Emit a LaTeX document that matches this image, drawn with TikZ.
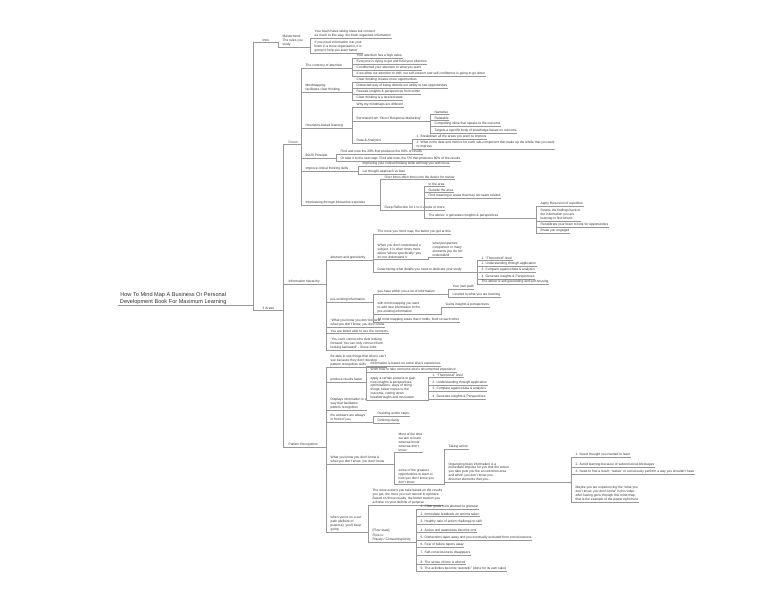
\documentclass[tikz,border=0pt]{standalone}
\usepackage{fontspec}
\setmainfont{Liberation Sans}
\usetikzlibrary{calc}
\tikzset{
  t/.style={anchor=south west,inner sep=0.5pt,align=left,font=\fontsize{3.3}{3.9}\selectfont,text=black!80},
  ul/.style={draw=black!40,line width=0.35pt},
  ln/.style={draw=black!40,line width=0.35pt},
}
\newcommand\mn[5][]{\node[t,#1] (#2) at (#3,#4) {#5}; \draw[ul] (#2.south west) -- (#2.south east);}
\newcommand\mc[3][4]{\draw[ln] (#2.south east) -| ($(#3.south west)+(-#1,0)$) -- (#3.south west);}
\begin{document}
\begin{tikzpicture}[x=1pt,y=-1pt]
\useasboundingbox[fill=white] (0,0) rectangle (768,594);
\mn[align=center,font=\fontsize{5.6}{7}\selectfont,minimum width=110pt]{root}{118}{305}{How To Mind Map A Business Or Personal\\Development Book For Maximum Learning}
\mn{intro}{262}{42}{Intro}
\mn{areas}{262}{310}{3 Areas}
\mc[9]{root}{intro}\mc[9]{root}{areas}
\mn{mm}{282}{47}{Mastermind:\\The rules you\\study}
\mc{intro}{mm}
\mn{i1}{314}{38}{Your brain hates taking ideas but connect\\as much to this way. the brain organizes information}
\mn{i2}{314}{53}{If you need information into your\\brain in a more organizaton, it is\\going to help you learn better}
\mc{mm}{i1}\mc{mm}{i2}
\mn{focus}{288}{144}{Focus}
\mn{info}{288}{284}{Information hierarchy}
\mn{pat}{288}{447}{Pattern Recognition}
\mc[5]{areas}{focus}\mc[5]{areas}{info}\mc[5]{areas}{pat}
% focus
\mn{cur}{305}{68}{The currency of attention}
\mn{mmc}{305}{92}{Mindmapping\\facilitates clear thinking}
\mn{heu}{305}{128}{Heuristics-based learning}
\mn{p80}{305}{158}{80/20 Principle}
\mn{crit}{305}{171}{Improve critical thinking skills}
\mn{inter}{305}{205}{Interleaving through interactive expertise}
\foreach \c in {cur,mmc,heu,p80,crit,inter}{\mc{focus}{\c}}
\mn{c1}{356}{58}{Your attention has a high value}
\mn{c2}{356}{64}{Everyone is trying to get and hold your attention}
\mn{c3}{356}{70}{Conditioned your attention to what you want}
\mn{c4}{356}{76}{If we allow our attention to drift, our self-esteem and self-confidence is going to go down}
\foreach \c in {c1,c2,c3,c4}{\mc{cur}{\c}}
\mn{m1}{356}{82}{Clear thinking creates more opportunities}
\mn{m2}{356}{88}{Distracted way of being distorts our ability to see opportunities}
\mn{m3}{356}{94}{Reveals insights \& perspectives from within}
\mn{m4}{356}{100}{Clear thinking is a desired state}
\foreach \c in {m1,m2,m3,m4}{\mc{mmc}{\c}}
\mn{h1}{356}{107}{Why my mindmaps are different}
\mn{h2}{356}{121}{Borrowed from ``Direct Response Marketing''}
\mn{h3}{356}{143}{Data \& Analytics}
\foreach \c in {h1,h2,h3}{\mc{heu}{\c}}
\mn{b1}{434}{114}{Narrative}
\mn{b2}{434}{120}{Relatable}
\mn{b3}{434}{126}{Compelling inline that speaks to the outcome}
\mn{b4}{434}{133}{Targets a specific body of knowledge based on outcome}
\foreach \c in {b1,b2,b3,b4}{\mc{h2}{\c}}
\mn{d1}{416}{139}{1. Breakdown all the areas you want to improve}
\mn{d2}{416}{149}{2. What is the data and metrics for each sub-component that make up the whole that you want\\to improve}
\mc{h3}{d1}\mc{h3}{d2}
\mn{e1}{340}{154}{Find and note the 20\% that produces the 80\% of results}
\mn{e2}{340}{161}{Or take it to the next step: Find and note, the 5\% that produces 80\% of the results}
\mc{p80}{e1}\mc{p80}{e2}
\mn{k1}{362}{166}{Improving your critical thinking skills will help you with focus}
\mn{k2}{362}{174}{Let thought approach vs bias}
\mc{crit}{k1}\mc{crit}{k2}
\mn{n1}{384}{179}{Over times often times into the desire for review}
\mn{n2}{384}{210}{Deep Reflection for 1 to 2 weeks or more}
\mc{inter}{n1}\mc{inter}{n2}
\mn{r1}{428}{186}{In the area}
\mn{r2}{428}{192}{Outside the area}
\mn{r3}{428}{198}{Find meaning in areas that may not seem related}
\mn{r4}{428}{218}{The above: it generates insights \& perspectives}
\foreach \c in {r1,r2,r3,r4}{\mc{n2}{\c}}
\mn{s1}{540}{206}{Apply Recursion of repetition}
\mn{s2}{540}{221}{Rewire the findings back to\\the information you are\\learning to find kinetic}
\mn{s3}{540}{227}{Recalibrate your brain to look for opportunities}
\mn{s4}{540}{233}{Break you engaged}
\foreach \c in {s1,s2,s3,s4}{\mc{r4}{\c}}
% information hierarchy
\mn{ab}{330}{260}{abstract and granularity}
\mn{pre}{330}{302}{pre-existing information}
\mn{wk}{330}{327}{``What you know you don't know \&\\what you don't know, you don't know}
\mn{ba}{330}{333}{You are better able to see the connects}
\mn{sj}{330}{350}{``You can't connect the dots looking\\forward; You can only connect them\\looking backward'' - Steve Jobs}
\foreach \c in {ab,pre,wk,ba,sj}{\mc{info}{\c}}
\mn{ab1}{377}{234}{The more you mind map, the better you get at this}
\mn{ab2}{377}{259}{When you don't understand a\\subject, it is often times more\\about ``where specifically'' you\\do not understand it}
\mn{ab3}{377}{272}{Determining what details you need to dedicate your study}
\foreach \c in {ab1,ab2,ab3}{\mc{ab}{\c}}
\mn{ab2a}{432}{257}{what perspective,\\component or many\\elements you do not\\understand}
\mc{ab2}{ab2a}
\mn{l1}{481}{260}{1. ``Theoretical'' level}
\mn{l2}{481}{266}{2. Understanding through application}
\mn{l3}{481}{272}{3. Compare against data \& analytics}
\mn{l4}{481}{279}{4. Generate insights \& Perspectives}
\mn{l5}{481}{284}{The above is self-generating and self-housing}
\foreach \c in {l1,l2,l3,l4,l5}{\mc{ab3}{\c}}
\mn{p1}{377}{294}{you have within you a lot of information}
\mn{p2}{377}{314}{with mind mapping you want\\to add new information to the\\pre-existing information}
\mn{p3}{377}{322}{All mind mapping areas that it holds, food so each other}
\foreach \c in {p1,p2,p3}{\mc{pre}{\c}}
\mn{pp1}{452}{289}{Your own path}
\mn{pp2}{452}{297}{Leveled in what you are learning}
\mc{p1}{pp1}\mc{p1}{pp2}
\mn{pp3}{445}{307}{Gains insights \& perspectives}
\mc{p2}{pp3}
% pattern recognition
\mn{be}{330}{367}{Be able to see things that others can't\\see because they don't develop\\pattern recognition skills}
\mn{prod}{330}{382}{produce results faster}
\mn{disp}{330}{410}{Displays information in a\\way that facilitates\\pattern recognition}
\mn{ans}{330}{422}{the answers are always\\in front of you}
\mn{wyk}{330}{464}{What you know you don't know \&\\what you don't know, you don't know}
\mn{set}{330}{532}{when you're on a set\\path (definite of\\purpose), you'll keep\\going}
\foreach \c in {be,prod,disp,ans,wyk,set}{\mc{pat}{\c}}
\mn{q1}{370}{366}{Information is based on some else's experience}
\mn{q2}{370}{372}{Work how to take someone else's documented experience}
\mn{q3}{370}{400}{apply a certain process to gain\\new insights \& perspectives,\\optimizations, ways of doing\\things; faster routes to the\\outcome, cutting down\\breakthroughs and innovation}
\foreach \c in {q1,q2,q3}{\mc{prod}{\c}}
\mn{t1}{432}{377}{1. ``Theoretical'' level}
\mn{t2}{432}{385}{2. Understanding through application}
\mn{t3}{432}{391}{3. Compare against data \& analytics}
\mn{t4}{432}{399}{4. Generate insights \& Perspectives}
\foreach \c in {t1,t2,t3,t4}{\mc{q3}{\c}}
\mn{a1}{377}{416}{Deciding action steps}
\mn{a2}{377}{423}{Defining clarity}
\mc{ans}{a1}\mc{ans}{a2}
\mn{w1}{398}{452}{Most of the time\\we aim to learn\\what we know\\what we don't\\know}
\mn{w2}{398}{484}{some of the greatest\\opportunities to learn is\\how you don't know you\\don't know}
\mc{wyk}{w1}\mc{wyk}{w2}
\mn{g1}{448}{449}{Taking action}
\mn{g2}{448}{482}{Organizing brain information is a\\immediate impulse for you that the action\\you take puts you the an unknown area\\and which you don't know you\\discover elements that you...}
\mc{w2}{g1}\mc{w2}{g2}
\mn{z1}{575}{457}{1. Never thought you needed to learn}
\mn{z2}{575}{467}{2. Avoid learning because of subconscious blockages}
\mn{z3}{575}{474}{3. Need to find a result; `realize' or consciously perform a way you shouldn't have}
\mn{z4}{575}{502}{Maybe you are experiencing the ``what you\\don't know, you don't know'' in this video\\after having gone through this mind map,\\that is the example of the power right there}
\foreach \c in {z1,z2,z3,z4}{\mc{g2}{\c}}
\mn{f0}{372}{505}{The more actions you take based on the results\\you get, the more you can narrow to optimize\\Based on those results, the better traction you\\achieve on your definite of purpose}
\mn{flow}{372}{542}{[Flow state]\\[1pt]Flow is:\\Ritualy / Consuming/Unity}
\mc{set}{f0}\mc{set}{flow}
\mn{fl1}{420}{509}{1. Clear goals from abstract to granular}
\mn{fl2}{420}{516}{2. Immediate feedback on actions taken}
\mn{fl3}{420}{524}{3. Healthy ratio of action challenge to skill}
\mn{fl4}{420}{532}{4. Action and awareness become one}
\mn{fl5}{420}{540}{5. Distractions taper away and you eventually excluded from consciousness}
\mn{fl6}{420}{547}{6. Fear of failure tapers away}
\mn{fl7}{420}{555}{7. Self-consciousness disappears}
\mn{fl8}{420}{564}{8. The sense of time is altered}
\mn{fl9}{420}{571}{9. The activities become ``autotelic'' (done for its own sake)}
\foreach \c in {fl1,fl2,fl3,fl4,fl5,fl6,fl7,fl8,fl9}{\mc{flow}{\c}}
\end{tikzpicture}
\end{document}
